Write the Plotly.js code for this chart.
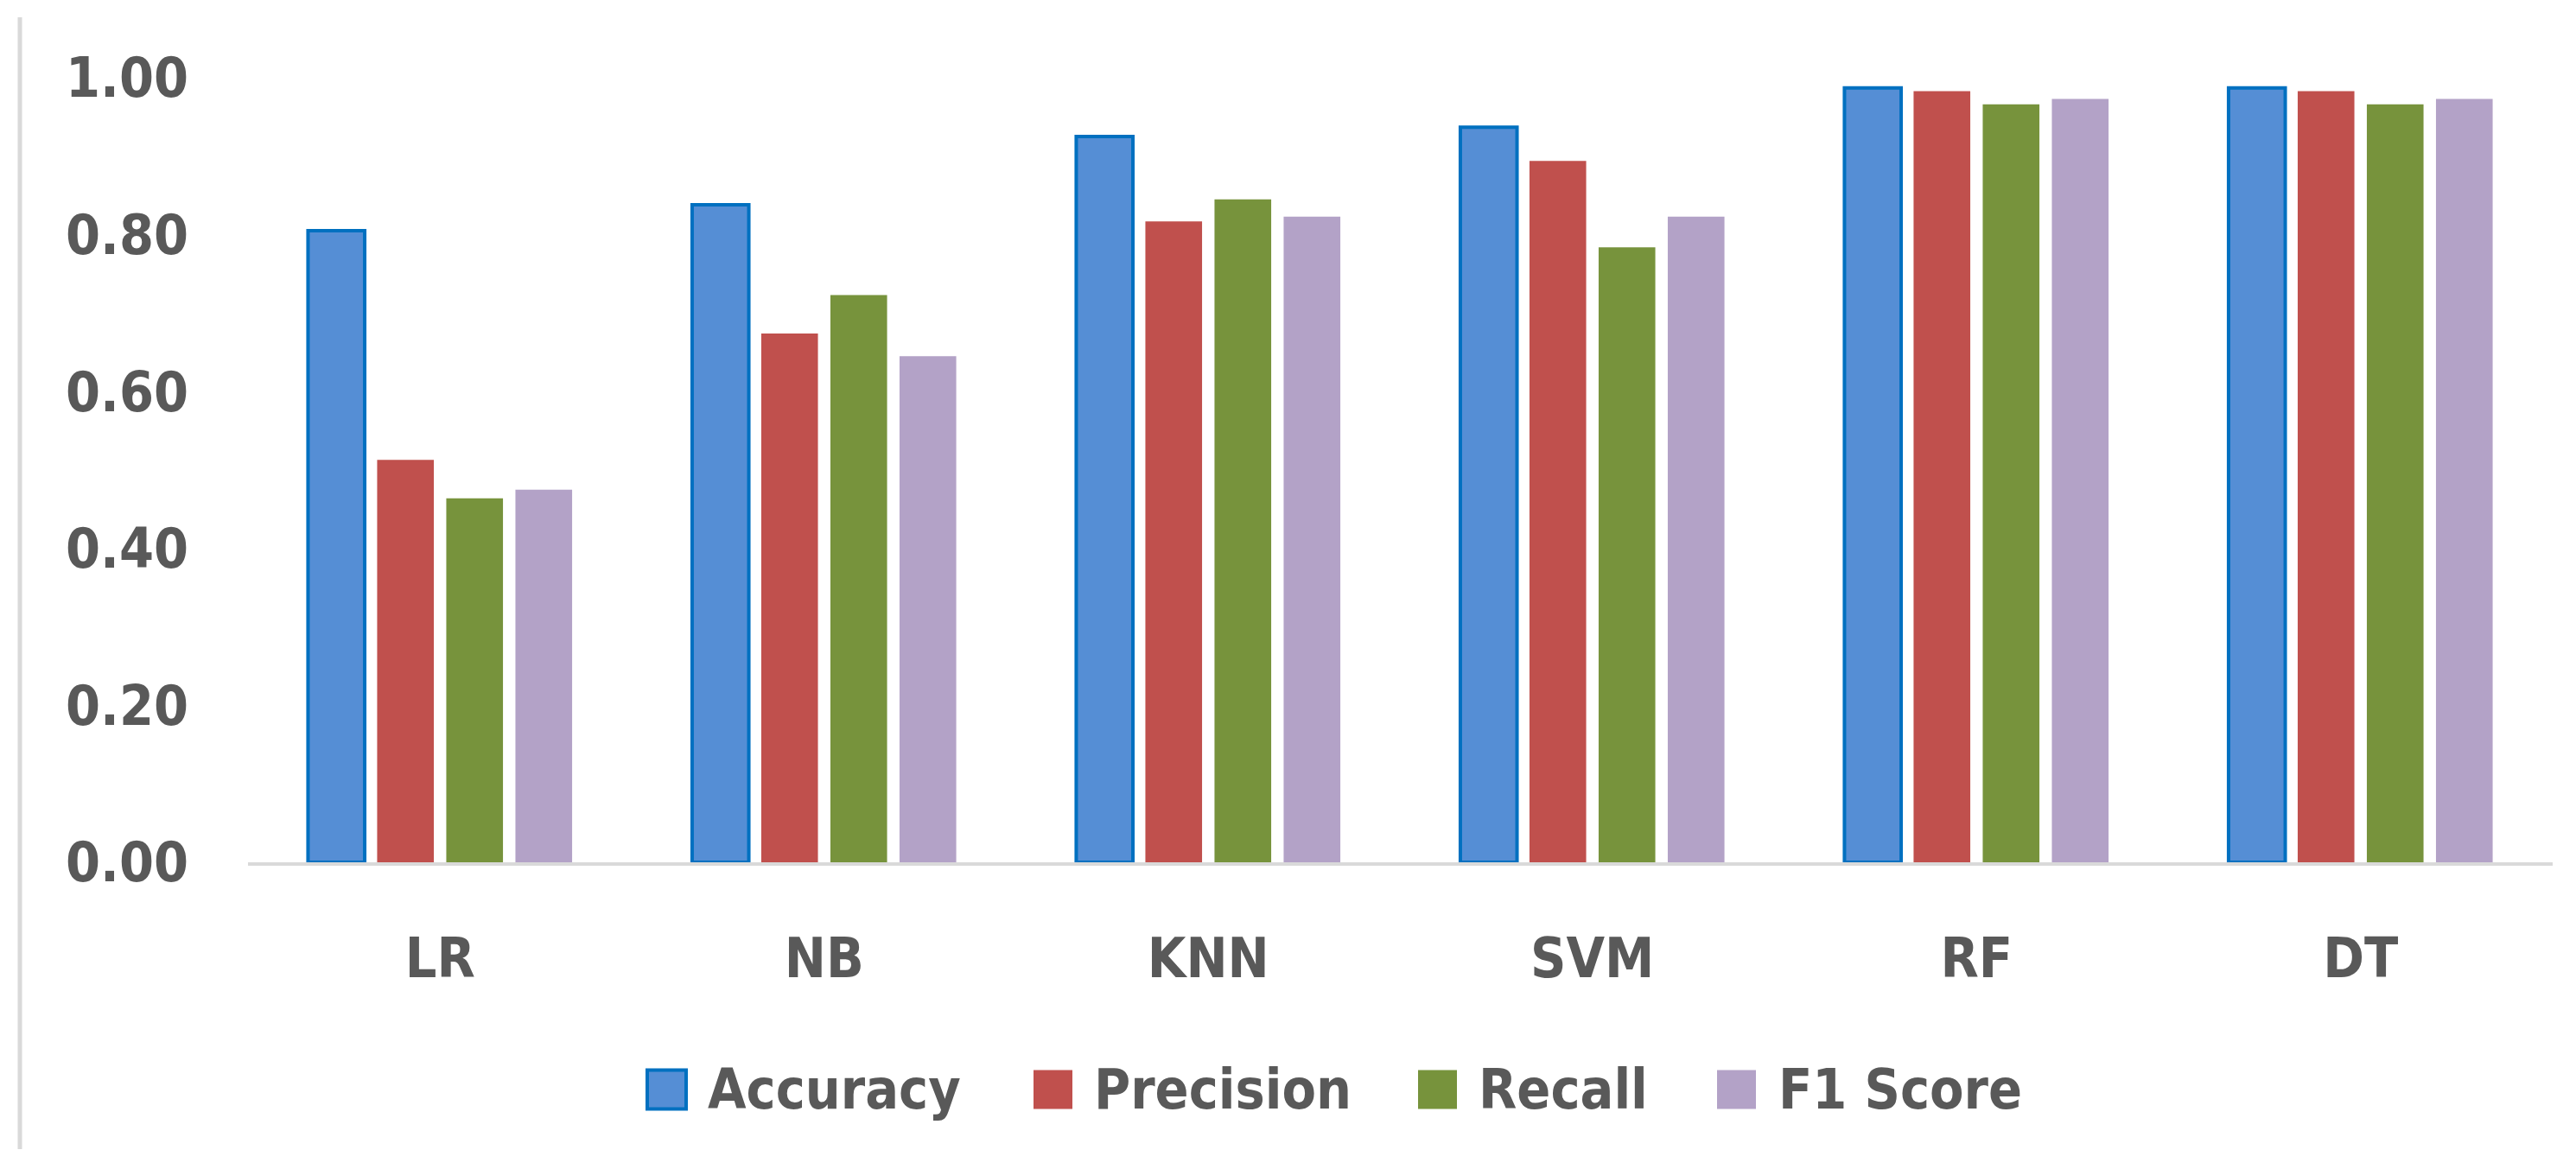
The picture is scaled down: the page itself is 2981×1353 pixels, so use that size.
<!DOCTYPE html>
<html>
<head>
<meta charset="utf-8">
<script src="https://cdn.plot.ly/plotly-3.0.1.min.js"></script>
<style>html,body{margin:0;padding:0;background:#fff;}#chart{width:2981px;height:1353px;}</style>
</head>
<body>
<div id="chart"></div>
<script>
var categories = ["LR", "NB", "KNN", "SVM", "RF", "DT"];
var seriesNames = ["Accuracy", "Precision", "Recall", "F1 Score"];
var accuracy  = [0.805, 0.838, 0.925, 0.937, 0.987, 0.987];
var precision = [0.513, 0.674, 0.817, 0.894, 0.983, 0.983];
var recall    = [0.464, 0.723, 0.845, 0.784, 0.966, 0.966];
var f1score   = [0.475, 0.645, 0.823, 0.823, 0.973, 0.973];
var yTicks = [0, 0.2, 0.4, 0.6, 0.8, 1.0];

var fills   = ["#558ED5", "#C0504D", "#77933C", "#B3A2C7"];
var borders = ["#0070C0", "#C0504D", "#77933C", "#B3A2C7"];
var borderW = [4, 0, 0, 0];
var values = [accuracy, precision, recall, f1score];

var FONT = "'DejaVu Sans Condensed', 'DejaVu Sans', Verdana, sans-serif";
var FS = 64;
var TXT = "#595959";

var traces = values.map(function (v, i) {
  return {
    type: "bar",
    name: seriesNames[i],
    x: categories,
    y: v,
    marker: { color: fills[i], line: { color: borders[i], width: borderW[i] } },
    showlegend: false,
    hoverinfo: "x+y+name"
  };
});

// plot area in pixels (for placing the custom legend)
var W = 2981, H = 1353, L = 287, R = 27, T = 90, B = 355;
var pw = W - L - R, ph = H - T - B;
function px2x(p) { return (p - L) / pw; }
function px2y(p) { return (H - B - p) / ph; }

var swatchLeft = [749, 1196, 1641, 1987];
var textLeft   = [817, 1264, 1709, 2056];
var legendMidY = 1261, sw = 45;

var shapes = [];
var annotations = [];
seriesNames.forEach(function (n, i) {
  shapes.push({
    type: "rect", xref: "paper", yref: "paper",
    x0: px2x(swatchLeft[i]), x1: px2x(swatchLeft[i] + sw),
    y0: px2y(legendMidY + sw / 2), y1: px2y(legendMidY - sw / 2),
    fillcolor: fills[i],
    line: { color: borders[i], width: borderW[i] }
  });
  annotations.push({
    xref: "paper", yref: "paper",
    x: px2x(textLeft[i]), y: px2y(legendMidY),
    xanchor: "left", yanchor: "middle",
    text: "<b>" + n + "</b>", showarrow: false,
    font: { family: FONT, size: FS, color: TXT }
  });
});
// chart frame edge on the left
shapes.push({
  type: "line", xref: "paper", yref: "paper",
  x0: px2x(23), x1: px2x(23), y0: px2y(20), y1: px2y(1330),
  line: { color: "#D9D9D9", width: 5 }
});

var layout = {
  width: W, height: H,
  margin: { l: L, r: R, t: T, b: B, pad: 0 },
  paper_bgcolor: "#FFFFFF", plot_bgcolor: "#FFFFFF",
  barmode: "group",
  bargap: 0.28,
  bargroupgap: 0.18,
  showlegend: false,
  font: { family: FONT, size: FS, color: TXT, weight: "bold" },
  xaxis: {
    type: "category",
    showgrid: false, zeroline: false,
    showline: true, linecolor: "#D9D9D9", linewidth: 4,
    ticks: "", ticklabelstandoff: 52,
    tickfont: { family: FONT, size: FS, color: TXT, weight: "bold" }
  },
  yaxis: {
    range: [0, 1.0],
    tickvals: yTicks, tickformat: ".2f",
    showgrid: false, zeroline: false, showline: false,
    ticks: "", ticklabelstandoff: 68,
    tickfont: { family: FONT, size: FS, color: TXT, weight: "bold" }
  },
  shapes: shapes,
  annotations: annotations
};

Plotly.newPlot("chart", traces, layout, { staticPlot: true, displayModeBar: false });
</script>
</body>
</html>
